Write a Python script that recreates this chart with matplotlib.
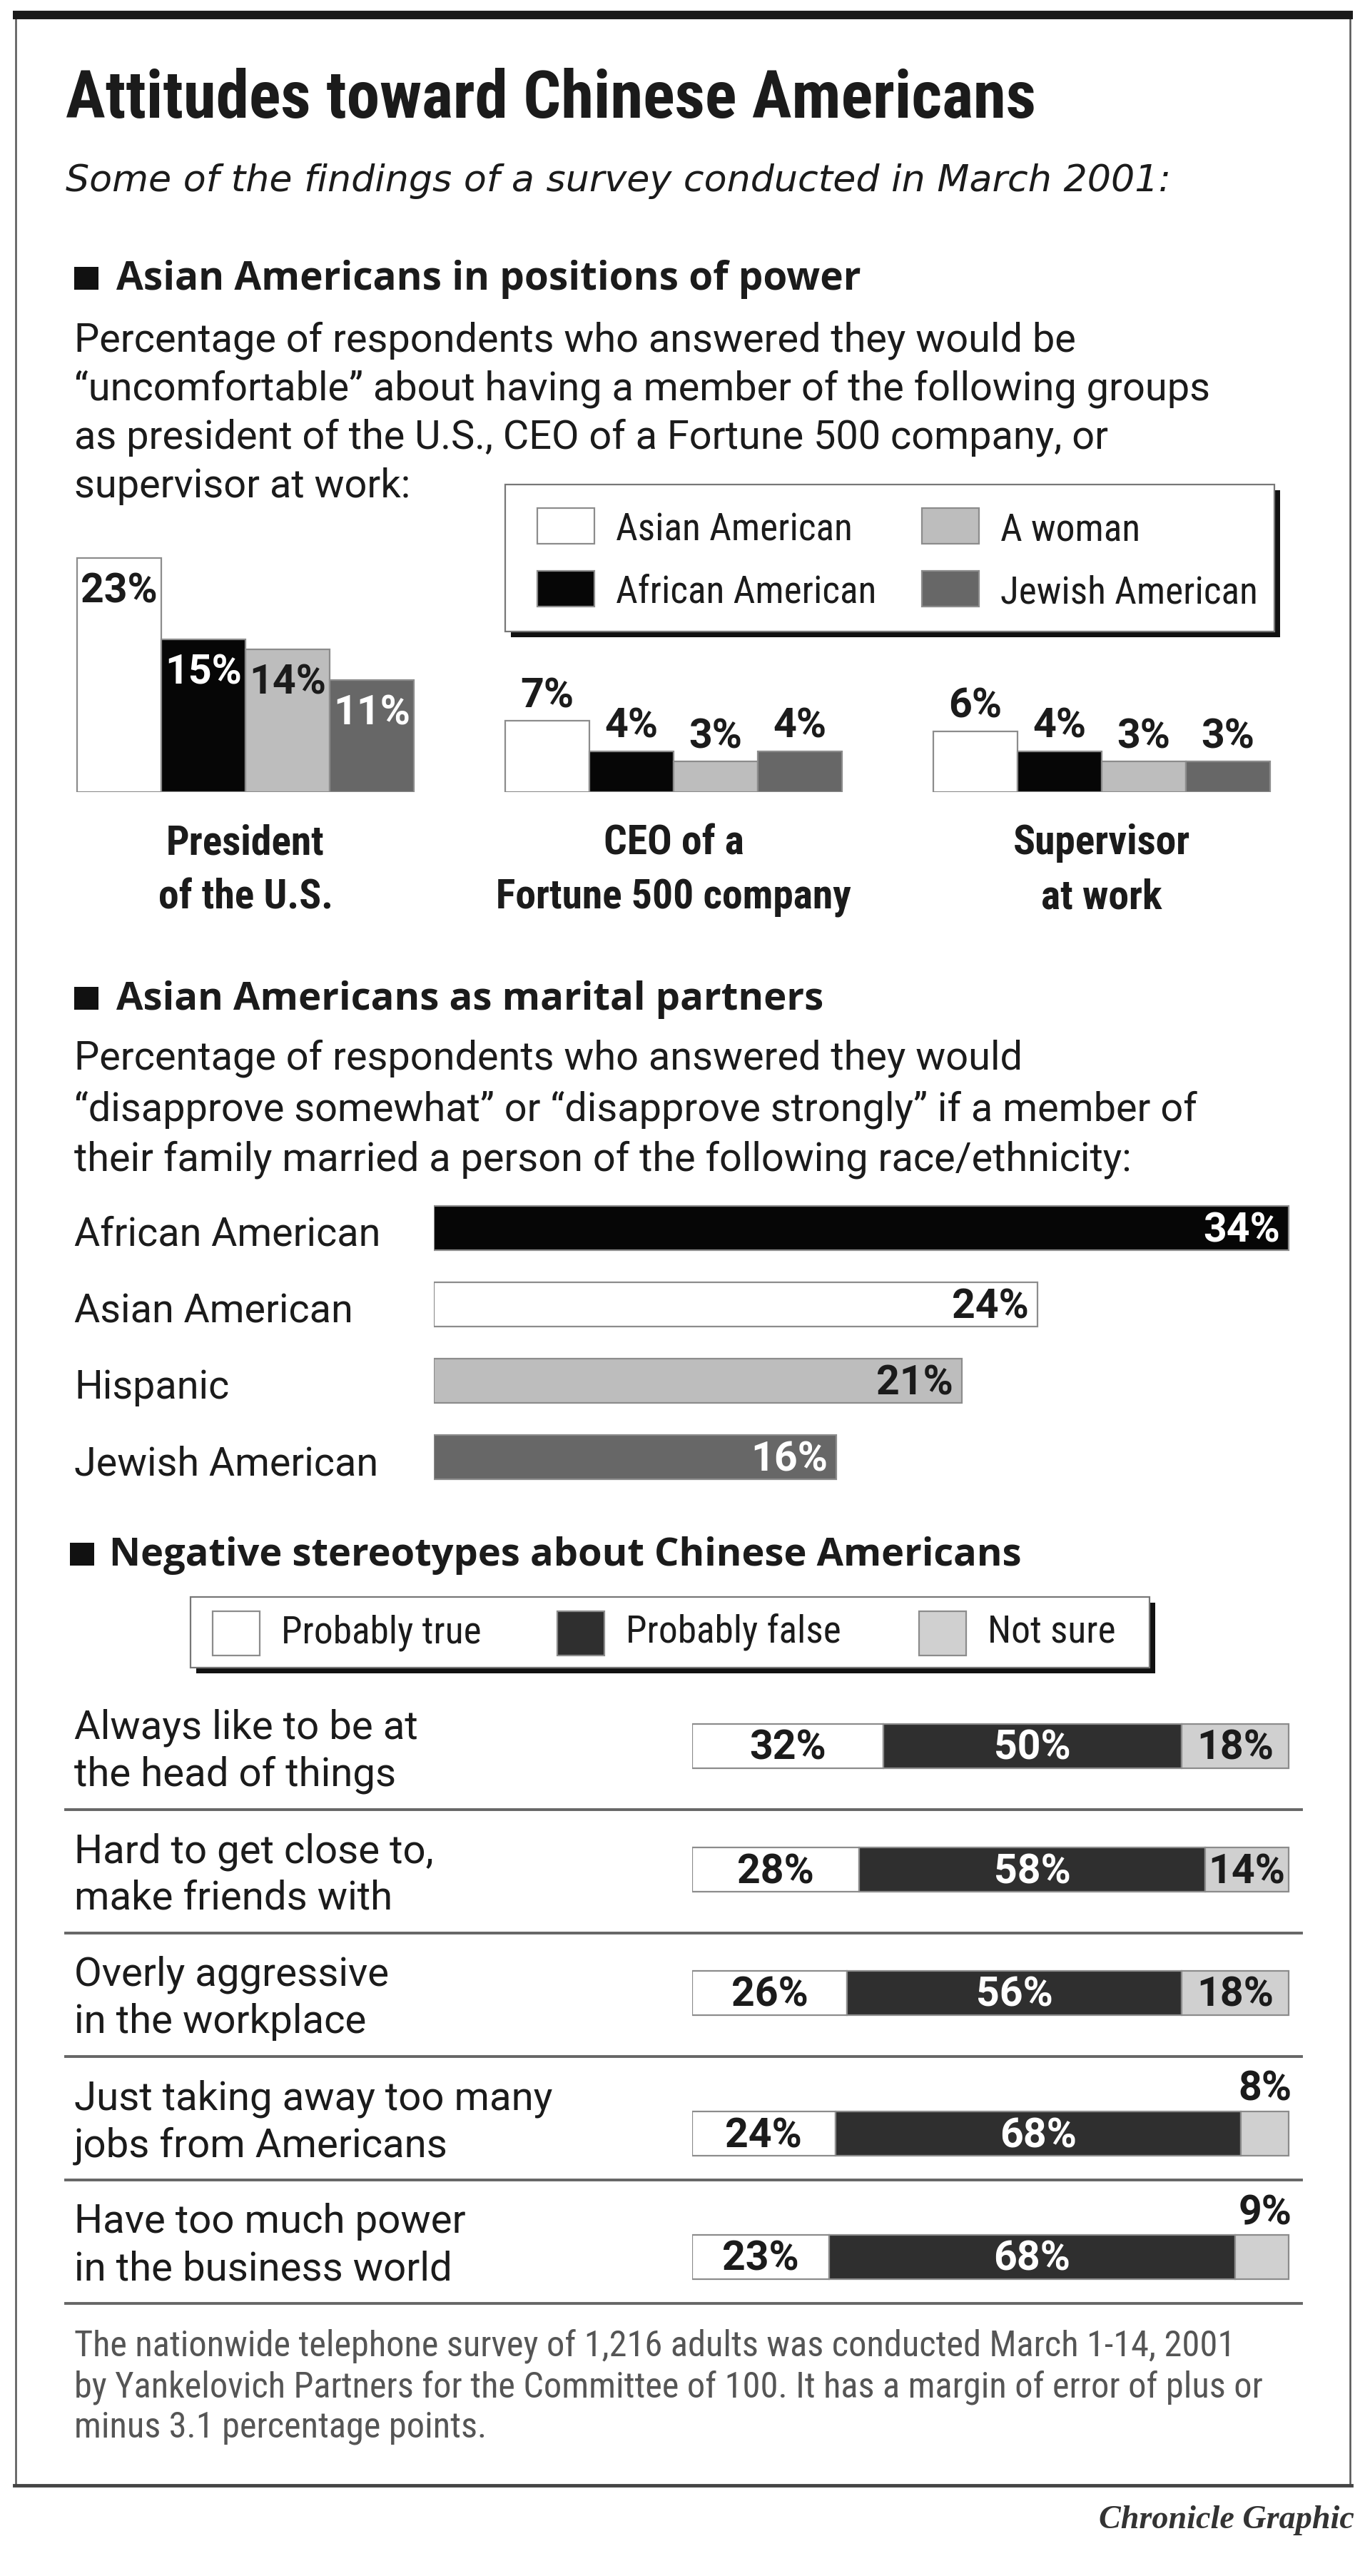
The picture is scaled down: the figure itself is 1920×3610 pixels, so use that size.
import math
import matplotlib
matplotlib.use("Agg")
import matplotlib.pyplot as plt
from matplotlib import font_manager as fm
from matplotlib.patches import Rectangle

title = "Attitudes toward Chinese Americans"
subtitle = "Some of the findings of a survey conducted in March 2001:"

head_power = "Asian Americans in positions of power"
body_power = ["Percentage of respondents who answered they would be",
              "\u201cuncomfortable\u201d about having a member of the following groups",
              "as president of the U.S., CEO of a Fortune 500 company, or",
              "supervisor at work:"]
power_jobs = ["President\nof the U.S.", "CEO of a\nFortune 500 company", "Supervisor\nat work"]
power_groups = ["Asian American", "African American", "A woman", "Jewish American"]
asian_american = [23, 7, 6]
african_american = [15, 4, 4]
a_woman = [14, 3, 3]
jewish_american = [11, 4, 3]

head_marriage = "Asian Americans as marital partners"
body_marriage = ["Percentage of respondents who answered they would",
                 "\u201cdisapprove somewhat\u201d or \u201cdisapprove strongly\u201d if a member of",
                 "their family married a person of the following race/ethnicity:"]
marriage_groups = ["African American", "Asian American", "Hispanic", "Jewish American"]
marriage_pct = [34, 24, 21, 16]

head_stereo = "Negative stereotypes about Chinese Americans"
stereo_keys = ["Probably true", "Probably false", "Not sure"]
stereotypes = ["Always like to be at\nthe head of things",
               "Hard to get close to,\nmake friends with",
               "Overly aggressive\nin the workplace",
               "Just taking away too many\njobs from Americans",
               "Have too much power\nin the business world"]
prob_true = [32, 28, 26, 24, 23]
prob_false = [50, 58, 56, 68, 68]
not_sure = [18, 14, 18, 8, 9]

footnote = ["The nationwide telephone survey of 1,216 adults was conducted March 1-14, 2001",
            "by Yankelovich Partners for the Committee of 100. It has a margin of error of plus or",
            "minus 3.1 percentage points."]
credit = "Chronicle Graphic"

# ---- fonts ----
installed = {f.name for f in fm.fontManager.ttflist}
CANDIDATES = [n for n in ["Roboto Condensed", "Liberation Sans Narrow", "Roboto",
                          "Liberation Sans", "Open Sans", "DejaVu Sans"] if n in installed]
SANS = CANDIDATES[0]
SERIF = "Liberation Serif" if "Liberation Serif" in installed else "DejaVu Serif"
plt.rcParams["font.family"] = SANS

INK = "#1b1b1b"
EDGE = "#8c8c8c"
fills = {"Asian American": "white", "African American": "#060606",
         "A woman": "#bdbdbd", "Hispanic": "#bdbdbd", "Jewish American": "#676767"}
stereo_fills = ["white", "#2f2f2f", "#d0d0d0"]
dark = {"#060606", "#676767", "#2f2f2f"}

W, H = 1920, 3610
fig = plt.figure(figsize=(W / 100, H / 100), dpi=100)
bg = fig.add_axes([0, 0, 1, 1])
bg.set_xlim(0, W)
bg.set_ylim(H, 0)
bg.axis("off")
renderer = fig.canvas.get_renderer()


def px_rect(left, top, right, bottom):
    return [left / W, 1 - bottom / H, (right - left) / W, (bottom - top) / H]


def measure(s, size, family, **kw):
    t = bg.text(0, 0, s, fontsize=size, family=family, **kw)
    w = t.get_window_extent(renderer).width
    t.remove()
    return w


def fit(items, size, families=None, **kw):
    # pick the family whose natural width is closest to the target widths
    # at the cap height of the original, then scale it to fit
    best = None
    for fam in families or CANDIDATES:
        scale = min(width / measure(s, size, fam, **kw) for s, width in items)
        if 0.9 <= scale <= 1.1:
            return fam, size * scale
        if best is None or abs(math.log(scale)) < abs(math.log(best[1])):
            best = (fam, scale)
    fam, scale = best
    return fam, size * min(max(scale, 0.8), 1.2)


def put(ax, x, y, s, font, color=INK, va="baseline", **kw):
    fam, size = font
    return ax.text(x, y, s, fontsize=size, color=color, family=fam, va=va, **kw)


def box_with_shadow(x0, y0, x1, y1):
    bg.add_patch(Rectangle((x0 + 8, y0 + 8), x1 - x0, y1 - y0, facecolor="#111111", edgecolor="none"))
    bg.add_patch(Rectangle((x0, y0), x1 - x0, y1 - y0, facecolor="white", edgecolor="#777777", lw=1.6))


# ---- frame ----
bg.plot([22, 22], [20, 3483], color="#555555", lw=1.8)
bg.plot([1892, 1892], [20, 3483], color="#555555", lw=1.8)
bg.plot([20, 1894], [3483, 3483], color="#444444", lw=3.5)
bg.plot([18, 1896], [21, 21], color="#1a1a1a", lw=8.6, solid_capstyle="butt")

# ---- title block ----
f = fit([(title, 1363)], 78, weight="bold")
put(bg, 92, 165, title, f, weight="bold")
f = fit([(subtitle, 1548)], 38, style="italic")
put(bg, 92, 268, subtitle, f, style="italic")

# section headers
for text, base, sq_x, tx, width in [(head_power, 406, 104, 163, 1043),
                                    (head_marriage, 1415, 104, 163, 988),
                                    (head_stereo, 2194, 98, 153, 1277)]:
    bg.add_patch(Rectangle((sq_x, base - 32), 34, 32, facecolor="#111111", edgecolor="none"))
    f = fit([(text, width)], 37, weight="bold")
    put(bg, tx, base, text, f, weight="bold")

# body paragraphs
body_font = fit(list(zip(body_power, [1451, 1641, 1531, 471])) +
                list(zip(body_marriage, [1371, 1622, 1518])), 38)
for line, base in zip(body_power, [492, 560, 628, 697]):
    put(bg, 104, base, line, body_font)
for line, base in zip(body_marriage, [1499, 1570, 1640]):
    put(bg, 104, base, line, body_font)

val_font = fit([("23%", 108)], 38, weight="bold")

# ---- chart 1: positions of power ----
PX1 = 14.25          # pixels per percentage point
BAR_W = 118
GROUP_STEP = 600
ax1 = fig.add_axes(px_rect(100, 700, 1800, 1110))
ax1.set_xlim(100, 1800)
ax1.set_ylim(0, (1110 - 700) / PX1)
ax1.axis("off")
series = [asian_american, african_american, a_woman, jewish_american]
for j, (name, vals) in enumerate(zip(power_groups, series)):
    xs = [108 + g * GROUP_STEP + (j + 0.5) * BAR_W for g in range(len(power_jobs))]
    ax1.bar(xs, vals, width=BAR_W, color=fills[name], edgecolor=EDGE, linewidth=1.6)
    for x, v in zip(xs, vals):
        if v >= 10:
            put(ax1, x, v - 62 / PX1, f"{v}%", val_font, weight="bold", ha="center",
                color="white" if fills[name] in dark else INK)
        else:
            put(ax1, x, v + 19 / PX1, f"{v}%", val_font, weight="bold", ha="center")

job_lines = [ln for job in power_jobs for ln in job.split("\n")]
job_font = fit(list(zip(job_lines, [232, 245, 202, 526, 264, 178])), 45, weight="bold")
for g, job in enumerate(power_jobs):
    cx = 108 + g * GROUP_STEP + 2 * BAR_W
    for ln, base in zip(job.split("\n"), [1197, 1273]):
        put(bg, cx, base, ln, job_font, weight="bold", ha="center")

# legend 1
box_with_shadow(708, 679, 1786, 885)
leg_font = fit(list(zip(power_groups, [331, 365, 196, 361])), 38)
for j, name in enumerate(power_groups):
    col, row = j // 2, j % 2
    sx = [753, 1292][col]
    top = [712, 800][row]
    bg.add_patch(Rectangle((sx, top), 80, 50, facecolor=fills[name], edgecolor=EDGE, lw=1.6))
    put(bg, sx + 110, top + 45, name, leg_font)

# ---- chart 2: marital partners ----
PX2 = 35.24
ax2 = fig.add_axes(px_rect(608, 1660, 1820, 2100))
ax2.set_xlim(0, (1820 - 608) / PX2)
ax2.set_ylim(2100, 1660)
ax2.axis("off")
ys2 = [1721 + i * 107 for i in range(len(marriage_groups))]
ax2.barh(ys2, marriage_pct, height=62, color=[fills[g] for g in marriage_groups],
         edgecolor=EDGE, linewidth=1.6)
row_font = fit(list(zip(marriage_groups, [441, 398, 217, 429])), 40)
for y, name, v in zip(ys2, marriage_groups, marriage_pct):
    put(ax2, v - 12 / PX2, y + 19, f"{v}%", val_font, weight="bold", ha="right",
        color="white" if fills[name] in dark else INK)
    put(bg, 104, y + 25, name, row_font)

# ---- chart 3: stereotypes ----
box_with_shadow(267, 2238, 1611, 2337)
key_font = fit(list(zip(stereo_keys, [288, 301, 183])), 38)
for key, col, sx in zip(stereo_keys, stereo_fills, [298, 781, 1288]):
    bg.add_patch(Rectangle((sx, 2258), 66, 62, facecolor=col, edgecolor=EDGE, lw=1.6))
    put(bg, sx + 96, 2302, key, key_font)

PX3 = 8.36
ROW_STEP = 173
ax3 = fig.add_axes(px_rect(970, 2363, 1830, 3228))
ax3.set_xlim(0, 860 / PX3)
ax3.set_ylim(3228, 2363)
ax3.axis("off")
seps = [2536 + i * ROW_STEP for i in range(len(stereotypes))]
centers = [sp - (89 if ns >= 10 else 65) for sp, ns in zip(seps, not_sure)]
lefts = [0] * len(stereotypes)
for vals, col in zip([prob_true, prob_false, not_sure], stereo_fills):
    ax3.barh(centers, vals, left=lefts, height=62, color=col, edgecolor=EDGE, linewidth=1.6)
    for y, l, v in zip(centers, lefts, vals):
        if v >= 10:
            put(ax3, l + v / 2, y + 19, f"{v}%", val_font, weight="bold", ha="center",
                color="white" if col in dark else INK)
        else:
            put(ax3, l + v + 0.5, y - 46, f"{v}%", val_font, weight="bold", ha="right")
    lefts = [l + v for l, v in zip(lefts, vals)]

stereo_lines = [ln for st in stereotypes for ln in st.split("\n")]
st_font = fit(list(zip(stereo_lines, [496, 465, 527, 453, 441, 416, 680, 527, 557, 535])), 40)
for sp, st in zip(seps, stereotypes):
    for ln, off in zip(st.split("\n"), [99, 33]):
        put(bg, 104, sp - off, ln, st_font)
    bg.plot([92, 1824], [sp, sp], color="#666666", lw=2.8)

# ---- footnote and credit ----
fn_font = fit(list(zip(footnote, [1696, 1686, 579])), 34)
for ln, base in zip(footnote, [3301, 3359, 3416]):
    put(bg, 104, base, ln, fn_font, color="#555555")
cr_font = fit([(credit, 358)], 36, families=[SERIF], weight="bold", style="italic")
put(bg, 1898, 3543, credit, cr_font, weight="bold", style="italic",
    color="#333333", ha="right")

fig.savefig("out.png", dpi=100, facecolor="white")
